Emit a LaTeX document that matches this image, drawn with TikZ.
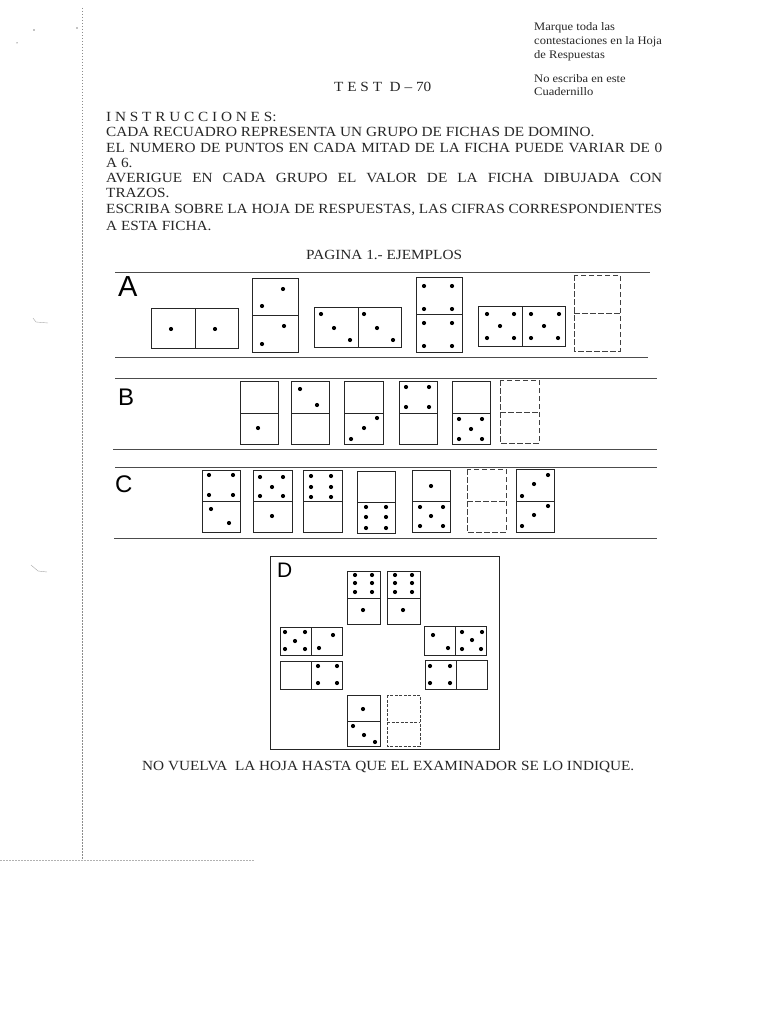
\documentclass[tikz,border=0pt]{standalone}
\usepackage{fontspec}
\setmainfont{Liberation Serif}
\setsansfont{Liberation Sans}
\newfontfamily\ancha[FakeStretch=1.09]{Liberation Serif}
\tikzset{
  linea/.style = {line width = 1pt,black!70},
  ficha/.style = {line width = 1pt,black!85},
  trazos/.style = {line width = 1pt,black!75,dash pattern = on 5.5pt off 2.5pt},
  punto/.style = {circle,fill = black,inner sep = 0pt,minimum size = 4.2pt},
  letra/.style = {anchor = west,inner sep = 0pt,font = \sffamily\fontsize{#1}{#1}\selectfont},
  texto/.style = {anchor = base west,inner sep = 0pt,font = \ancha\fontsize{14}{15}\selectfont,black!85},
  nota/.style = {anchor = base west,inner sep = 0pt,font = \ancha\fontsize{11.5}{14}\selectfont,black!85},
  escaneo/.style = {line width = 0.5pt,black!45,dash pattern = on 1.5pt off 1.5pt},
  mancha/.style = {line width = 0.4pt,black!35}
}
\begin{document}
\begin{tikzpicture}[x = 1pt,y = -1pt,color = {black}]
\useasboundingbox (0,0) rectangle (768,1024);
\draw[escaneo] (82,8) -- (82,860);\draw[escaneo,black!30] (0,860) -- (255,860);
\draw[mancha] (33,318) -- (36,322) -- (48,323);\draw[mancha] (31,565) -- (38,571) -- (47,572);
\fill (34,30) circle (0.7pt);\fill (77,28) circle (0.7pt);\fill (17,43) circle (0.5pt);
%
\node[nota] (marque) at (534,31) {Marque toda las};
\node[nota] (contesta) at (534,45) {contestaciones en la Hoja};
\node[nota] (respuestas) at (534,59) {de Respuestas};
\node[nota] (escriba) at (534,83) {No escriba en este};
\node[nota] (cuaderno) at (534,96) {Cuadernillo};
\node[texto] (titulo) at (334,92) {T E S T\ \ D – 70};
%
\node[texto] (instruc) at (106,122) {I N S T R U C C I O N E S:};
\node[texto] (linea1) at (106,137) {CADA RECUADRO REPRESENTA UN GRUPO DE FICHAS DE DOMINO.};
\node[texto] (linea2) at (106,153) {\makebox[556pt][s]{EL NUMERO DE PUNTOS EN CADA MITAD DE LA FICHA PUEDE VARIAR DE 0}};
\node[texto] (linea3) at (106,168) {A 6.};
\node[texto] (linea4) at (106,183) {\makebox[556pt][s]{AVERIGUE EN CADA GRUPO EL VALOR DE LA FICHA DIBUJADA CON}};
\node[texto] (linea5) at (106,198) {TRAZOS.};
\node[texto] (linea6) at (106,214) {\makebox[556pt][s]{ESCRIBA SOBRE LA HOJA DE RESPUESTAS, LAS CIFRAS CORRESPONDIENTES}};
\node[texto] (linea7) at (106,230) {A ESTA FICHA.};
\node[texto] (pagina) at (306,259) {PAGINA 1.- EJEMPLOS};
%
\draw[linea] (115,272) -- (650,272);\draw[linea] (115,357) -- (648,357);
\node[letra = 29] (A) at (118,287) {A};
\draw[ficha] (151,308) rectangle (238,348);\draw[ficha] (195,308) -- (195,348);
\foreach \x/\y in {171/329,215/329} {\node[punto] at (\x,\y) {};}
\draw[ficha] (252,278) rectangle (298,352);\draw[ficha] (252,315) -- (298,315);
\foreach \x/\y in {283/289,262/306,284/326,262/344} {\node[punto] at (\x,\y) {};}
\draw[ficha] (314,307) rectangle (401,347);\draw[ficha] (358,307) -- (358,347);
\foreach \x/\y in {321/314,334/328,350/340,364/314,377/328,393/340} {\node[punto] at (\x,\y) {};}
\draw[ficha] (416,277) rectangle (462,352);\draw[ficha] (416,314) -- (462,314);
\foreach \x/\y in {424/286,452/286,424/309,452/309,424/323,452/323,424/346,452/346} {\node[punto] at (\x,\y) {};}
\draw[ficha] (478,306) rectangle (565,346);\draw[ficha] (522,306) -- (522,346);
\foreach \x/\y in {487/314,514/314,500/326,487/338,514/338,531/314,559/314,544/326,531/338,558/338} {\node[punto] at (\x,\y) {};}
\draw[trazos] (574,275) rectangle (620,351);\draw[trazos] (574,313) -- (620,313);
%
\draw[linea] (115,378) -- (657,378);\draw[linea] (113,449) -- (657,449);
\node[letra = 24] (B) at (118,397) {B};
\draw[ficha] (240,381) rectangle (278,444);\draw[ficha] (240,413) -- (278,413);
\node[punto] at (258,428) {};
\draw[ficha] (291,381) rectangle (329,444);\draw[ficha] (291,413) -- (329,413);
\foreach \x/\y in {300/389,317/405} {\node[punto] at (\x,\y) {};}
\draw[ficha] (344,381) rectangle (383,444);\draw[ficha] (344,413) -- (383,413);
\foreach \x/\y in {377/418,364/428,351/439} {\node[punto] at (\x,\y) {};}
\draw[ficha] (399,381) rectangle (437,444);\draw[ficha] (399,413) -- (437,413);
\foreach \x/\y in {406/387,429/387,406/407,429/407} {\node[punto] at (\x,\y) {};}
\draw[ficha] (452,381) rectangle (490,444);\draw[ficha] (452,413) -- (490,413);
\foreach \x/\y in {459/419,482/419,471/429,459/439,482/439} {\node[punto] at (\x,\y) {};}
\draw[trazos] (500,380) rectangle (539,443);\draw[trazos] (500,412) -- (539,412);
%
\draw[linea] (115,467) -- (657,467);\draw[linea] (114,538) -- (657,538);
\node[letra = 24] (C) at (115,484) {C};
\draw[ficha] (202,470) rectangle (240,532);\draw[ficha] (202,501) -- (240,501);
\foreach \x/\y in {209/475,233/475,209/495,233/495,211/509,229/523} {\node[punto] at (\x,\y) {};}
\draw[ficha] (253,470) rectangle (292,532);\draw[ficha] (253,501) -- (292,501);
\foreach \x/\y in {260/477,283/477,272/487,260/496,283/496,272/516} {\node[punto] at (\x,\y) {};}
\draw[ficha] (303,470) rectangle (342,532);\draw[ficha] (303,501) -- (342,501);
\foreach \x/\y in {311/476,331/476,311/487,331/487,311/497,331/497} {\node[punto] at (\x,\y) {};}
\draw[ficha] (357,471) rectangle (395,533);\draw[ficha] (357,502) -- (395,502);
\foreach \x/\y in {366/507,386/507,366/517,386/517,366/528,386/528} {\node[punto] at (\x,\y) {};}
\draw[ficha] (412,470) rectangle (450,532);\draw[ficha] (412,501) -- (450,501);
\foreach \x/\y in {431/486,420/507,443/507,431/516,420/526,443/526} {\node[punto] at (\x,\y) {};}
\draw[trazos] (467,469) rectangle (506,532);\draw[trazos] (467,501) -- (506,501);
\draw[ficha] (516,469) rectangle (554,532);\draw[ficha] (516,501) -- (554,501);
\foreach \x/\y in {548/475,534/484,522/496,548/506,534/515,522/526} {\node[punto] at (\x,\y) {};}
%
\draw[ficha] (270,556) rectangle (499,749);
\node[letra = 21] (D) at (277,570) {D};
\draw[ficha] (347,571) rectangle (380,624);\draw[ficha] (347,598) -- (380,598);
\foreach \x/\y in {355/575,372/575,355/583,372/583,355/592,372/592,363/610} {\node[punto] at (\x,\y) {};}
\draw[ficha] (387,571) rectangle (420,624);\draw[ficha] (387,598) -- (420,598);
\foreach \x/\y in {395/575,412/575,395/583,412/583,395/592,412/592,403/610} {\node[punto] at (\x,\y) {};}
\draw[ficha] (280,627) rectangle (342,655);\draw[ficha] (311,627) -- (311,655);
\foreach \x/\y in {285/632,305/632,295/641,285/649,305/649,333/635,319/648} {\node[punto] at (\x,\y) {};}
\draw[ficha] (424,626) rectangle (486,655);\draw[ficha] (455,626) -- (455,655);
\foreach \x/\y in {433/635,448/648,462/632,482/632,472/640,462/649,481/649} {\node[punto] at (\x,\y) {};}
\draw[ficha] (280,661) rectangle (342,689);\draw[ficha] (311,661) -- (311,689);
\foreach \x/\y in {318/666,337/666,318/683,337/683} {\node[punto] at (\x,\y) {};}
\draw[ficha] (425,660) rectangle (487,689);\draw[ficha] (456,660) -- (456,689);
\foreach \x/\y in {430/666,450/666,430/683,450/683} {\node[punto] at (\x,\y) {};}
\draw[ficha] (347,695) rectangle (380,746);\draw[ficha] (347,721) -- (380,721);
\foreach \x/\y in {363/709,353/726,364/735,375/742} {\node[punto] at (\x,\y) {};}
\draw[trazos,dash pattern = on 3pt off 1.5pt] (387,695) rectangle (420,746);\draw[trazos,dash pattern = on 3pt off 1.5pt] (387,722) -- (420,722);
%
\node[texto] (aviso) at (142,770) {NO VUELVA\ \ LA HOJA HASTA QUE EL EXAMINADOR SE LO INDIQUE.};
\end{tikzpicture}
\end{document}
